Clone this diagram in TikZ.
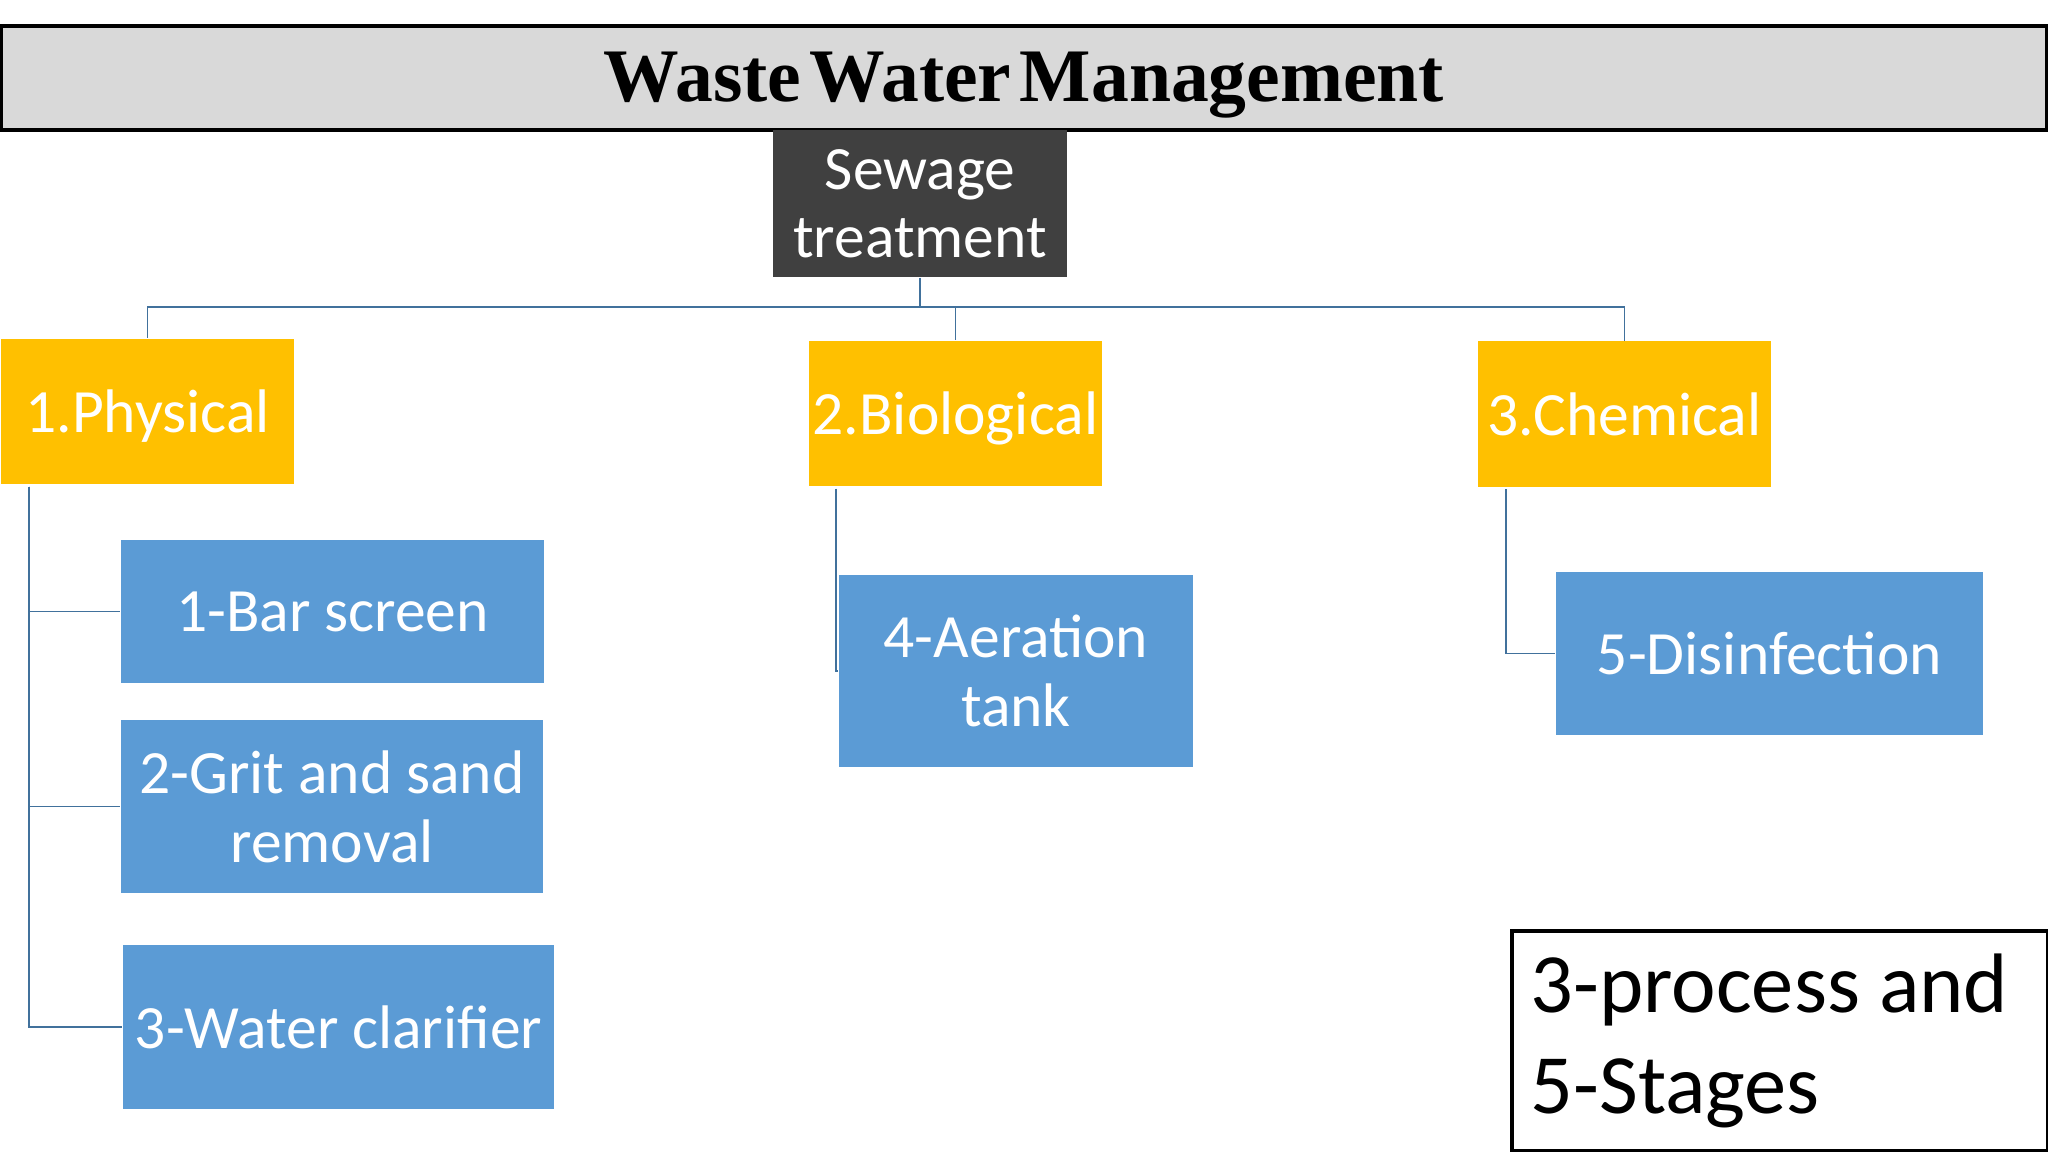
\documentclass[tikz,border=0pt]{standalone}
\usepackage{fontspec}
\setmainfont{Carlito}
\newfontfamily\titlefont[WordSpace=0.45]{Liberation Serif}
\usepackage{tikz}
\usetikzlibrary{calc}
\definecolor{wwgold}{HTML}{FFC000}
\definecolor{wwblue}{HTML}{5B9BD5}
\definecolor{wwdark}{HTML}{404040}
\definecolor{wwgrey}{HTML}{D9D9D9}
\definecolor{wwline}{HTML}{41719C}
\tikzset{
  phase/.style={rectangle,fill=wwgold,text=white,inner sep=0pt,align=center,
                minimum width=2.93cm,minimum height=1.45cm,text depth=0pt,
                font=\fontsize{17.5}{19.5}\selectfont},
  stagebox/.style={rectangle,fill=wwblue,text=white,inner sep=0pt,align=center,
                   text depth=0pt,font=\fontsize{17.5}{19.5}\selectfont},
  link/.style={draw=wwline,line width=0.5pt},
}

\begin{document}
\begin{tikzpicture}[x=0.01cm,y=-0.01cm,
  head/.style={rectangle,draw=black,line width=0.9pt,fill=wwgrey,inner sep=0pt,
    minimum width=20.44cm,minimum height=1.04cm,text height=0.47cm,text depth=0pt,
    font=\titlefont\bfseries\fontsize{21.5}{24}\selectfont}]
  \useasboundingbox (0,0) rectangle (2048,1152);
  \node[head] (title) at (1024,78) {Waste Water Management};
  \node[rectangle,fill=wwdark,text=white,inner sep=0pt,align=center,text depth=0pt,
        minimum width=2.94cm,minimum height=1.47cm,
        font=\fontsize{17.5}{19.5}\selectfont] (sew) at (920,203.5) {Sewage\\treatment};
  \node[phase] (phys) at (147.5,411.5) {1.Physical};
  \node[phase] (bio) at (955.5,413.5) {2.Biological};
  \node[phase] (chem) at (1624.5,414) {3.Chemical};
  \node[stagebox,minimum width=4.23cm,minimum height=1.43cm] (bar) at (332.5,611.5) {1-Bar screen};
  \node[stagebox,minimum width=4.22cm,minimum height=1.73cm] (grit) at (332,806.5) {2-Grit and sand\\removal};
  \node[stagebox,minimum width=4.31cm,minimum height=1.64cm] (clar) at (338.5,1027) {3-Water clarifier};
  \node[stagebox,minimum width=3.54cm,minimum height=1.92cm] (aer) at (1016,671) {4-Aeration\\tank};
  \node[stagebox,minimum width=4.27cm,minimum height=1.63cm] (dis) at (1769.5,653.5) {5-Disinfection};
  \node[rectangle,draw=black,line width=1pt,anchor=north west,inner xsep=0.19cm,
        minimum width=5.36cm,minimum height=2.2cm,text width=4.98cm,align=flush left,
        font=\fontsize{24}{28.7}\selectfont] (note) at (1510,929) {3-process and\\5-Stages};
  \coordinate (bus) at (920,307);
  \draw[link] (sew.south) -- (bus) -| (phys.north);
  \draw[link] (bus) -| (bio.north);
  \draw[link] (bus) -| (chem.north);
  \draw[link] ($(phys.south west)+(29,2)$) |- (bar.west);
  \draw[link] ($(phys.south west)+(29,2)$) |- (grit.west);
  \draw[link] ($(phys.south west)+(29,2)$) |- (clar.west);
  \draw[link] ($(bio.south west)+(28,2)$) |- (aer.west);
  \draw[link] ($(chem.south west)+(29,2)$) |- (dis.west);
\end{tikzpicture}
\end{document}
